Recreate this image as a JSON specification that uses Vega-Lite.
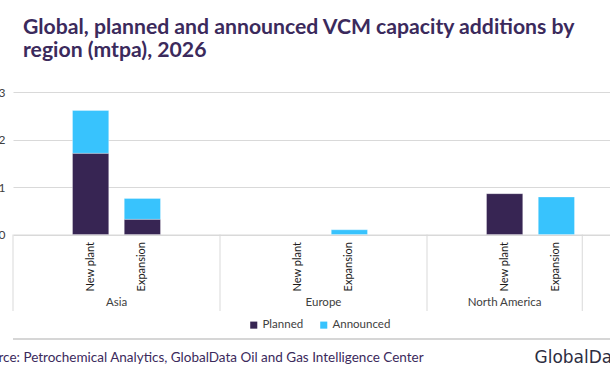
{
  "$schema": "https://vega.github.io/schema/vega-lite/v6.json",
  "width": 597,
  "height": 219,
  "autosize": {"type": "none"},
  "padding": {"left": 13, "top": 92, "right": 0, "bottom": 69},
  "background": "white",
  "title": {
    "text": ["Global, planned and announced VCM capacity additions by", "region (mtpa), 2026"],
    "anchor": "start",
    "frame": "group",
    "dx": 10,
    "offset": 25,
    "font": "Lato",
    "fontSize": 21.2,
    "fontWeight": "bold",
    "color": "#3b2a5c",
    "lineHeight": 22.5
  },
  "config": {"view": {"stroke": null}, "font": "Lato"},
  "datasets": {
    "bars": [
      {"region": "Asia", "type": "New plant", "status": "Planned", "value": 1.71},
      {"region": "Asia", "type": "New plant", "status": "Announced", "value": 0.9},
      {"region": "Asia", "type": "Expansion", "status": "Planned", "value": 0.32},
      {"region": "Asia", "type": "Expansion", "status": "Announced", "value": 0.44},
      {"region": "Europe", "type": "New plant", "status": "Planned", "value": 0},
      {"region": "Europe", "type": "New plant", "status": "Announced", "value": 0},
      {"region": "Europe", "type": "Expansion", "status": "Planned", "value": 0},
      {"region": "Europe", "type": "Expansion", "status": "Announced", "value": 0.1},
      {"region": "North America", "type": "New plant", "status": "Planned", "value": 0.86},
      {"region": "North America", "type": "New plant", "status": "Announced", "value": 0},
      {"region": "North America", "type": "Expansion", "status": "Planned", "value": 0},
      {"region": "North America", "type": "Expansion", "status": "Announced", "value": 0.79}
    ],
    "groupStarts": [
      {"slot": "Asia|_a"},
      {"slot": "Europe|_a"},
      {"slot": "North America|_a"}
    ],
    "groupEnd": [{"slot": "North America|Expansion"}],
    "labels4": [
      {"region": "Asia", "slot": "Asia|Expansion"},
      {"region": "Europe", "slot": "Europe|Expansion"}
    ],
    "labels3": [
      {"region": "North America", "slot": "North America|New plant"}
    ],
    "source": [{"slot": "Asia|_a", "note": "Source: Petrochemical Analytics, GlobalData Oil and Gas Intelligence Center"}],
    "logo": [{"slot": "North America|Expansion", "brand": "GlobalData"}],
    "divider": [{"level": -2.2}]
  },
  "layer": [
    {
      "data": {"name": "bars"},
      "transform": [
        {"filter": "datum.value > 0"},
        {"calculate": "datum.region + '|' + datum.type", "as": "slot"}
      ],
      "mark": {"type": "bar", "width": {"band": 0.7}, "stroke": "#ffffff", "strokeWidth": 0.6, "strokeOpacity": 0.5},
      "encoding": {
        "x": {
          "field": "slot",
          "type": "nominal",
          "scale": {
            "domain": ["Asia|_a", "Asia|New plant", "Asia|Expansion", "Asia|_b", "Europe|_a", "Europe|New plant", "Europe|Expansion", "Europe|_b", "North America|_a", "North America|New plant", "North America|Expansion"],
            "paddingInner": 0,
            "paddingOuter": 0.268,
            "align": 0
          },
          "axis": {
            "orient": "bottom",
            "offset": -76.5,
            "title": null,
            "ticks": false,
            "grid": false,
            "domainColor": "#d9d9d9",
            "labelAngle": -90,
            "labelAlign": "right",
            "labelBaseline": "middle",
            "labelPadding": 7,
            "labelFontSize": 11,
            "labelColor": "#1a1a1a",
            "labelOverlap": false,
            "labelExpr": "indexof(datum.value, '_') >= 0 ? '' : split(datum.value, '|')[1]"
          }
        },
        "y": {
          "field": "value",
          "type": "quantitative",
          "stack": "zero",
          "scale": {"domain": [-1.61, 3], "nice": false, "zero": false},
          "axis": {
            "values": [0, 1, 2, 3],
            "grid": true,
            "gridColor": "#d9d9d9",
            "domain": false,
            "ticks": false,
            "labelPadding": 8,
            "labelFontSize": 12,
            "labelColor": "#404040",
            "title": null
          }
        },
        "color": {
          "field": "status",
          "type": "nominal",
          "sort": ["Planned", "Announced"],
          "scale": {"domain": ["Planned", "Announced"], "range": ["#372553", "#38c3fd"]},
          "legend": {
            "orient": "none",
            "legendX": 235,
            "legendY": 227,
            "direction": "horizontal",
            "title": null,
            "symbolType": "square",
            "symbolSize": 50,
            "symbolStrokeWidth": 0,
            "labelFontSize": 11.5,
            "labelColor": "#404040",
            "columnPadding": 14,
            "labelOffset": 3
          }
        }
      }
    },
    {
      "data": {"name": "groupStarts"},
      "mark": {"type": "rule", "color": "#d9d9d9", "strokeWidth": 1},
      "encoding": {
        "x": {"field": "slot", "type": "nominal", "bandPosition": 0},
        "y": {"datum": 0},
        "y2": {"datum": -1.61}
      }
    },
    {
      "data": {"name": "groupEnd"},
      "mark": {"type": "rule", "color": "#d9d9d9", "strokeWidth": 1},
      "encoding": {
        "x": {"field": "slot", "type": "nominal", "bandPosition": 1},
        "y": {"datum": 0},
        "y2": {"datum": -1.61}
      }
    },
    {
      "data": {"name": "labels4"},
      "mark": {"type": "text", "fontSize": 11.5, "color": "#404040", "align": "center", "baseline": "middle"},
      "encoding": {
        "x": {"field": "slot", "type": "nominal", "bandPosition": 0},
        "y": {"datum": -1.44},
        "text": {"field": "region"}
      }
    },
    {
      "data": {"name": "labels3"},
      "mark": {"type": "text", "fontSize": 11.5, "color": "#404040", "align": "center", "baseline": "middle"},
      "encoding": {
        "x": {"field": "slot", "type": "nominal", "bandPosition": 0.5},
        "y": {"datum": -1.44},
        "text": {"field": "region"}
      }
    },
    {
      "data": {"name": "divider"},
      "mark": {"type": "rule", "color": "#c8c8c8", "strokeWidth": 1.5},
      "encoding": {
        "y": {"field": "level", "type": "quantitative"}
      }
    },
    {
      "data": {"name": "source"},
      "mark": {"type": "text", "fontSize": 13.5, "color": "#3b2a5c", "align": "left", "baseline": "middle", "dx": -37},
      "encoding": {
        "x": {"field": "slot", "type": "nominal", "bandPosition": 0},
        "y": {"datum": -2.6},
        "text": {"field": "note"}
      }
    },
    {
      "data": {"name": "logo"},
      "mark": {"type": "text", "fontSize": 17, "font": "DejaVu Sans", "letterSpacing": 0.4, "color": "#2d2d3f", "align": "left", "baseline": "middle", "dx": 4},
      "encoding": {
        "x": {"field": "slot", "type": "nominal", "bandPosition": 0},
        "y": {"datum": -2.6},
        "text": {"field": "brand"}
      }
    }
  ]
}
